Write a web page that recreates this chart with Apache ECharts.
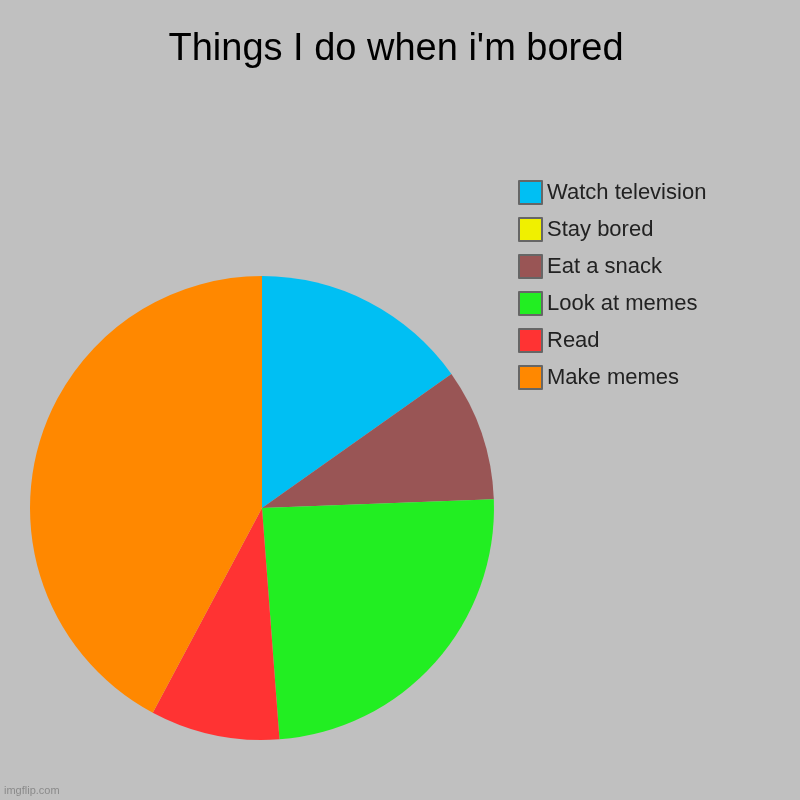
<!DOCTYPE html>
<html>
<head>
<meta charset="utf-8">
<script src="https://cdn.jsdelivr.net/npm/echarts@6/dist/echarts.min.js"></script>
<style>
html,body{margin:0;padding:0;background:#c0c0c0;}
#chart{width:800px;height:800px;}
</style>
</head>
<body>
<div id="chart"></div>
<script>
const categories = ["Watch television", "Stay bored", "Eat a snack", "Look at memes", "Read", "Make memes"];
const values = [15.2, 0, 9.2, 24.4, 9.0, 42.2];
const colors = ["#00BFF3", "#F0F000", "#995555", "#22EE22", "#FF3333", "#FF8800"];

const FONT = '"Liberation Sans", Arial, sans-serif';
const chart = echarts.init(document.getElementById('chart'), null, {renderer: 'canvas'});
chart.setOption({
  backgroundColor: '#c0c0c0',
  animation: false,
  title: {
    text: "Things I do when i'm bored",
    left: 391,
    textAlign: 'center',
    top: 26,
    textStyle: {fontFamily: FONT, fontSize: 38, fontWeight: 'normal', color: '#000'}
  },
  legend: {
    orient: 'vertical',
    left: 518,
    top: 180,
    padding: 0,
    itemWidth: 23,
    itemHeight: 23,
    itemGap: 12,
    icon: 'rect',
    itemStyle: {borderColor: '#666', borderWidth: 2},
    textStyle: {fontFamily: FONT, fontSize: 22, color: '#222'},
    selectedMode: false,
    data: categories
  },
  graphic: [{
    type: 'text',
    left: 4,
    top: 785,
    style: {text: 'imgflip.com', fill: '#8a8a8a', font: '11px ' + FONT}
  }],
  series: [{
    type: 'pie',
    center: [262, 508],
    radius: [0, 232],
    startAngle: 90,
    clockwise: true,
    label: {show: false},
    labelLine: {show: false},
    emphasis: {disabled: true},
    itemStyle: {borderWidth: 0},
    data: categories.map((c, i) => ({name: c, value: values[i], itemStyle: {color: colors[i]}}))
  }]
});
</script>
</body>
</html>
